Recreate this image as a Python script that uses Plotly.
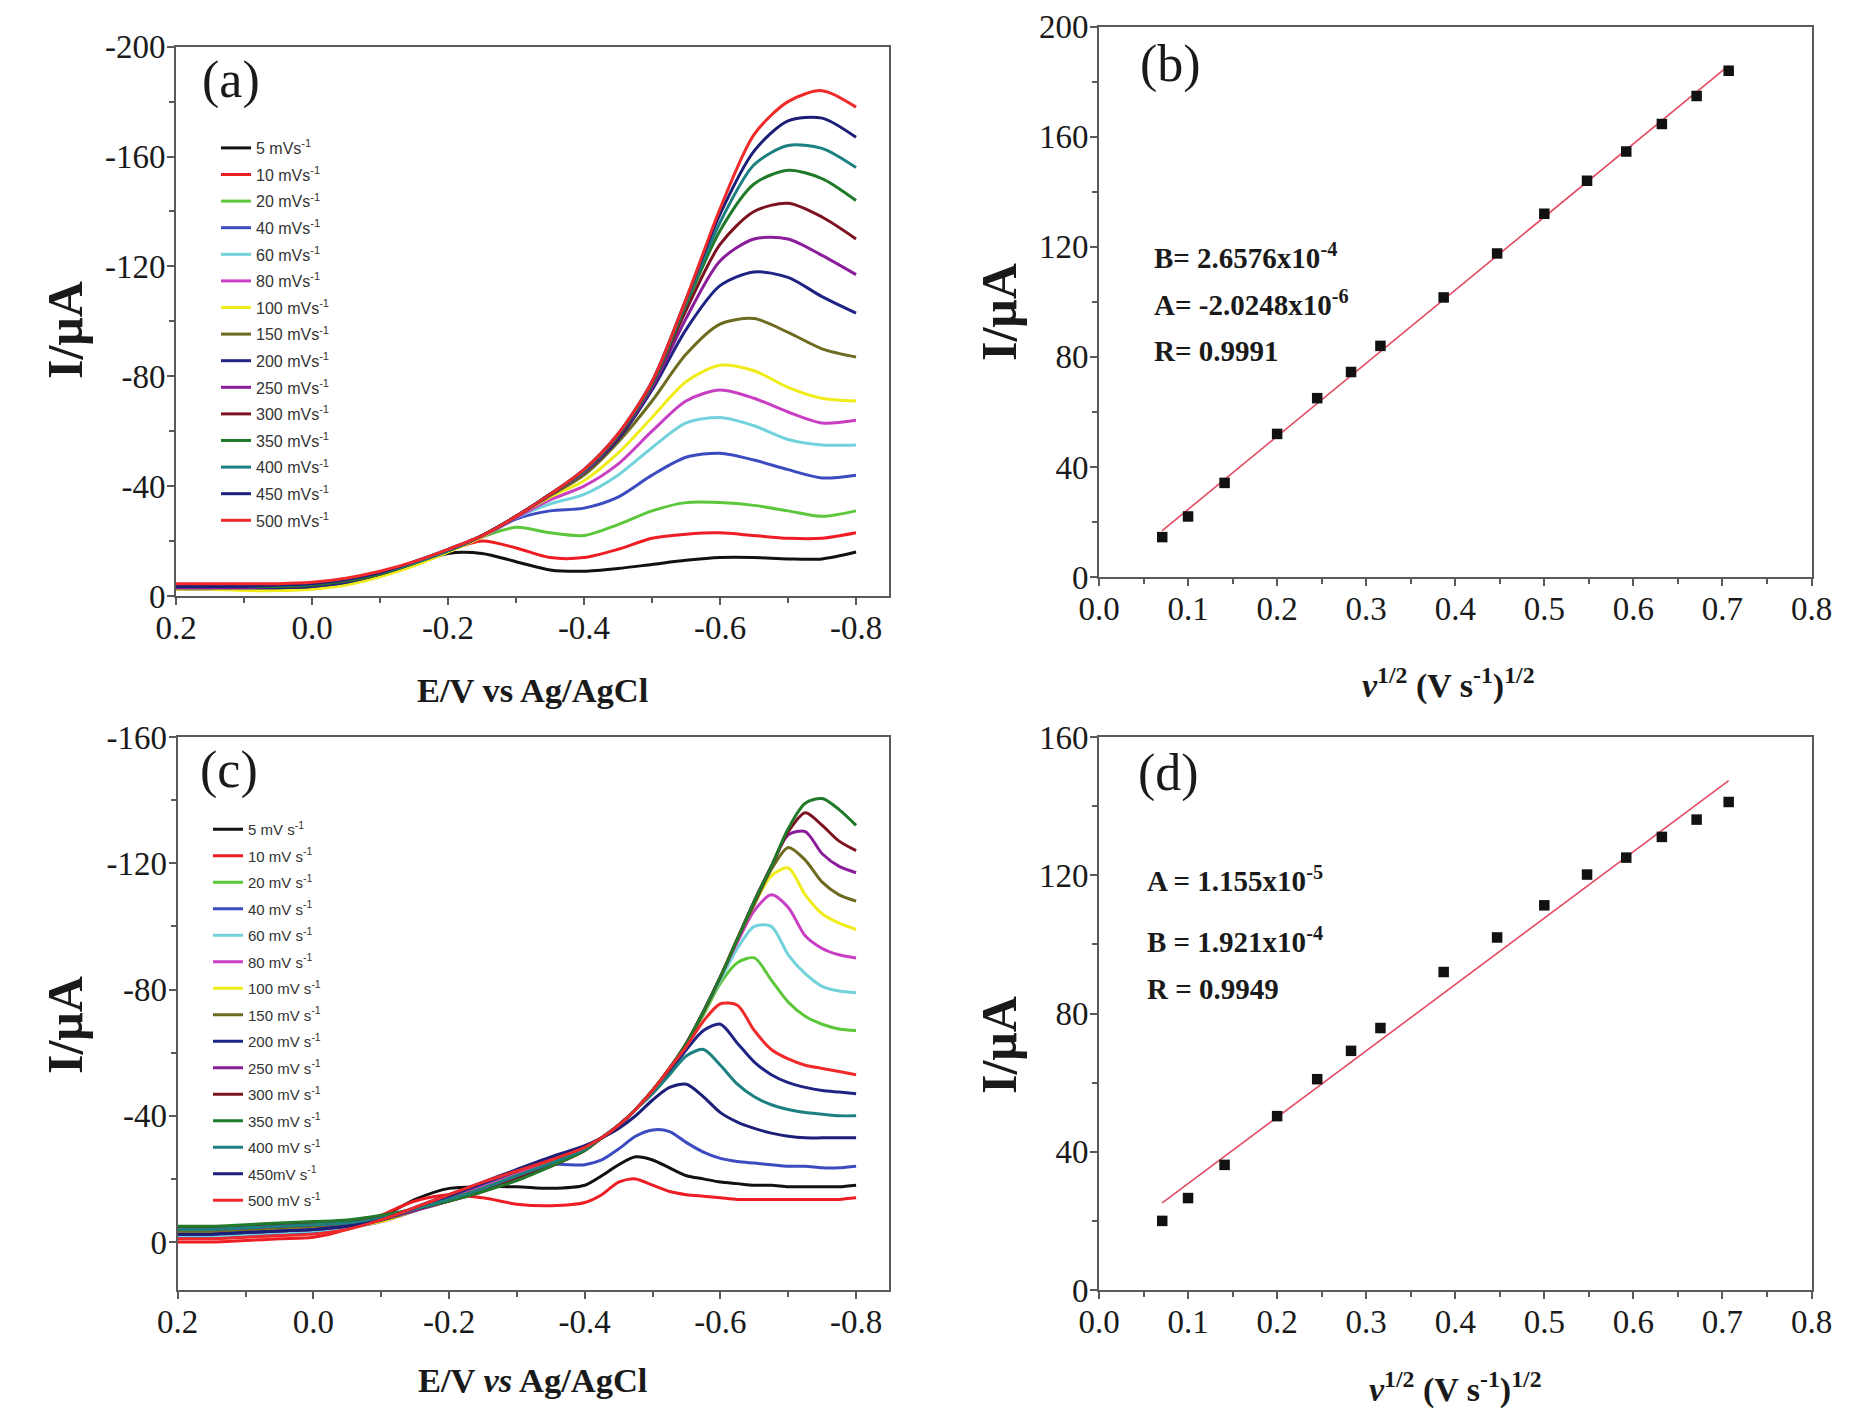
import plotly.graph_objects as go

W, H = 1858, 1425

# ---------------- data ----------------
RATES = [5, 10, 20, 40, 60, 80, 100, 150, 200, 250, 300, 350, 400, 450, 500]
COLORS = ["#111111", "#ee1d23", "#5cc73a", "#3c4bbf", "#72d2dc", "#c93fc4", "#f0ec1a",
          "#6e6a1f", "#1f2484", "#8a1d99", "#7d1222", "#207a2a", "#1c7f80", "#1c1f78", "#f02a2a"]

# panel (a): potential (V) and currents (uA)
E_A = [0.2, 0.15, 0.1, 0.05, 0.0, -0.05, -0.1, -0.15, -0.2, -0.25, -0.3, -0.35, -0.4,
       -0.45, -0.5, -0.55, -0.6, -0.65, -0.7, -0.75, -0.8]
IA_5 = [-3, -3, -3, -3, -3.5, -5, -7.5, -11.5, -15.5, -15.5, -12.5, -9.5, -9, -10, -11.5, -13, -14, -14, -13.5, -13.5, -16]
IA_10 = [-3.5, -3.5, -3.5, -3.5, -4, -5.5, -8, -12, -16.5, -20, -17.5, -14, -14, -17, -21, -22.5, -23, -22, -21, -21, -23]
IA_20 = [-3, -3, -2.5, -2.5, -3, -5, -7.5, -11.5, -16.5, -21.5, -25, -23, -22, -26, -31, -34, -34, -33, -31, -29, -31]
IA_40 = [-2.5, -2.5, -2.5, -3, -3.5, -5, -8, -12, -16.5, -21.5, -28, -31, -32, -36, -44, -50.5, -52, -49.5, -46, -43, -44]
IA_60 = [-3, -3, -3, -3, -3.5, -5, -7.5, -11.5, -16.5, -21.5, -28.5, -33.5, -37, -44, -54, -63, -65, -62, -57, -55, -55]
IA_80 = [-3, -3, -3, -3, -3.5, -5, -7.5, -11.5, -16.5, -21.5, -28.5, -35, -40, -48, -60, -71, -75, -72, -67, -63, -64]
IA_100 = [-2.5, -2.5, -2, -2, -2.5, -4, -7, -11, -16, -21.5, -29, -36, -42, -52, -65, -78, -84, -82, -76, -72, -71]
IA_150 = [-3, -3, -3, -3, -3.5, -5, -8, -12, -16.5, -22, -29, -36.5, -44, -56, -71, -88, -99, -101, -96, -90, -87]
IA_200 = [-3, -3, -3, -3, -3.5, -5, -8, -12, -16.5, -22, -29, -37, -45, -57, -75, -97, -113, -118, -116, -109, -103]
IA_250 = [-3, -3, -3, -3.5, -4, -5.5, -8, -12, -16.5, -22, -29, -37, -45, -58, -76, -101, -122, -130, -130, -124, -117]
IA_300 = [-3.5, -3.5, -3.5, -3.5, -4, -5.5, -8, -12, -16.5, -22, -29, -37, -45.5, -58, -77, -104, -128, -140, -143, -138, -130]
IA_350 = [-3.5, -3.5, -3.5, -3.5, -4, -5.5, -8, -12, -16.5, -22, -29, -37, -45.5, -58.5, -77, -106, -133, -150, -155, -152, -144]
IA_400 = [-3.5, -3.5, -3.5, -4, -4.5, -6, -8.5, -12, -16.5, -22, -29, -37, -45.5, -58.5, -77.5, -107, -136, -157, -164, -163, -156]
IA_450 = [-3.5, -3.5, -3.5, -4, -4.5, -6, -8.5, -12.5, -17, -22, -29, -37, -46, -59, -78, -108, -139, -162, -173, -174, -167]
IA_500 = [-4.5, -4.5, -4.5, -4.5, -5, -6.5, -9, -12.5, -17, -22, -29, -37, -46, -59, -78, -108, -141, -168, -180, -184, -178]

# panel (c)
E_C = [0.2, 0.15, 0.1, 0.05, 0.0, -0.05, -0.1, -0.15, -0.2, -0.25, -0.3, -0.35, -0.4,
       -0.425, -0.45, -0.475, -0.5, -0.525, -0.55, -0.575, -0.6, -0.625, -0.65, -0.675,
       -0.7, -0.725, -0.75, -0.775, -0.8]
IC_5 = [-3, -3, -3.5, -4, -4.5, -5.5, -8, -13.5, -17, -17.5, -17.5, -17, -18, -21, -24.5, -27, -26, -23.5, -21, -20, -19, -18.5, -18, -18, -17.5, -17.5, -17.5, -17.5, -18]
IC_10 = [0, 0, -0.5, -1, -1.5, -4, -8.5, -13, -15, -14, -12, -11.5, -12.5, -15, -19, -20, -18, -16, -15, -14.5, -14, -13.5, -13.5, -13.5, -13.5, -13.5, -13.5, -13.5, -14]
IC_20 = [-3.5, -3.5, -4, -4.5, -5, -5.5, -7, -10, -13.5, -17.5, -21.5, -25.5, -30, -33, -37, -42, -48, -55, -63, -72, -82, -88.5, -90, -83, -76, -71.5, -69, -67.5, -67]
IC_40 = [-1.5, -1.5, -2, -2.5, -3, -4.5, -6.5, -10, -14, -18, -21.5, -24.5, -24.5, -26, -29.5, -33.5, -35.5, -35, -31.5, -28.5, -26.5, -25.5, -25, -24.5, -24, -24, -23.5, -23.5, -24]
IC_60 = [-2, -2, -2.5, -3, -3.5, -4.5, -6.5, -10, -14, -18, -22, -26, -30, -33, -37, -42, -48, -55, -63, -73, -83, -93, -100, -100, -91, -85, -81, -79.5, -79]
IC_80 = [-3, -3, -3, -3.5, -4, -5, -6.5, -10, -14, -17.5, -21.5, -25.5, -30, -33, -37, -42, -48, -55, -63, -73, -84, -95, -105, -110, -106, -97, -93, -91, -90]
IC_100 = [-3, -3, -3.5, -4, -4.5, -5, -6.5, -10, -13.5, -17, -21, -25, -30, -33, -37, -42, -48, -55, -63, -73, -84, -96, -107, -116, -118.5, -110, -104, -101, -99]
IC_150 = [-3.5, -3.5, -4, -4.5, -5, -5.5, -7, -10, -13.5, -17, -21, -25, -29.5, -33, -37, -42, -48, -55, -63, -73, -84, -96, -107, -118, -125, -121, -114, -110, -108]
IC_200 = [-2.5, -2.5, -3, -3.5, -4, -5, -7, -10.5, -14.5, -18.5, -22.5, -26.5, -30, -33, -37, -42, -47.5, -54, -61, -67, -69, -63, -57, -53, -50.5, -49, -48, -47.5, -47]
IC_250 = [-4, -4, -4.5, -5, -5.5, -6, -7.5, -10, -13, -16.5, -20.5, -24.5, -29.5, -33, -37, -42, -48, -55, -63, -73, -84, -96, -108, -119, -129, -130, -123, -119, -117]
IC_300 = [-4.5, -4.5, -5, -5.5, -6, -6.5, -8, -10.5, -13, -16, -20, -24, -29, -33, -37, -42, -48, -55, -63, -73, -84, -96, -108, -119, -130, -136, -132, -127, -124]
IC_350 = [-5, -5, -5.5, -6, -6.5, -7, -8.5, -10.5, -13, -16, -19.5, -24, -29, -33, -37, -42, -48, -55, -63, -73, -84, -96, -108, -119, -131, -139, -140.5, -137, -132]
IC_400 = [-4, -4, -4.5, -5, -5.5, -6, -7.5, -10.5, -13.5, -17, -21, -25, -29.5, -33, -37, -42, -47, -53, -59, -61, -56, -50, -46, -43.5, -42, -41, -40.5, -40, -40]
IC_450 = [-2.5, -2.5, -3, -3.5, -4, -5, -7, -11, -15, -19, -23, -27, -30.5, -33, -36, -40, -45, -49, -50, -46, -41, -38, -36, -34.5, -33.5, -33, -33, -33, -33]
IC_500 = [-1, -1, -1.5, -2, -2.5, -4, -7, -11, -15, -19, -22.5, -26, -30, -33, -37, -42, -48, -55, -62, -70, -75.5, -75, -67, -61, -58, -56, -55, -54, -53]

# panels (b) and (d): peak current vs square root of scan rate
SQRT_V = [0.071, 0.100, 0.141, 0.200, 0.245, 0.283, 0.316, 0.387, 0.447, 0.500, 0.548, 0.592, 0.632, 0.671, 0.707]
IP_B = [14.5, 22, 34.2, 52, 65, 74.5, 84, 101.6, 117.6, 132, 144, 154.6, 164.6, 174.8, 184]
IP_D = [20, 26.6, 36.2, 50.3, 61, 69.2, 75.8, 92, 102, 111.3, 120.2, 125.1, 131.1, 136.1, 141.2]
FIT_B_A, FIT_B_B = -2.0248e-6, 2.6576e-4   # A (intercept), B (slope) in amperes
FIT_D_A, FIT_D_B = 1.155e-5, 1.921e-4

IA = [IA_5, IA_10, IA_20, IA_40, IA_60, IA_80, IA_100, IA_150, IA_200, IA_250, IA_300, IA_350, IA_400, IA_450, IA_500]
IC = [IC_5, IC_10, IC_20, IC_40, IC_60, IC_80, IC_100, IC_150, IC_200, IC_250, IC_300, IC_350, IC_400, IC_450, IC_500]

XT_CV = [0.2, 0.0, -0.2, -0.4, -0.6, -0.8]
YT_A = [0, -40, -80, -120, -160, -200]
YT_C = [0, -40, -80, -120, -160]
XT_FIT = [0.0, 0.1, 0.2, 0.3, 0.4, 0.5, 0.6, 0.7, 0.8]
YT_B = [0, 40, 80, 120, 160, 200]
YT_D = [0, 40, 80, 120, 160]

SERIF = "Liberation Serif"
SANS = "Liberation Sans"

fig = go.Figure()

for r, c, ys in zip(RATES, COLORS, IA):
    fig.add_trace(go.Scatter(x=E_A, y=ys, mode="lines", xaxis="x", yaxis="y",
                             line=dict(color=c, width=3, shape="spline", smoothing=0.8),
                             name=f"{r} mVs<sup>-1</sup>", legend="legend", legendgroup=f"a{r}"))

for r, c, ys in zip(RATES, COLORS, IC):
    label = f"{r}mV s<sup>-1</sup>" if r == 450 else f"{r} mV s<sup>-1</sup>"
    fig.add_trace(go.Scatter(x=E_C, y=ys, mode="lines", xaxis="x3", yaxis="y3",
                             line=dict(color=c, width=3, shape="spline", smoothing=0.8),
                             name=label, legend="legend2", legendgroup=f"c{r}"))

FIT_RED = "#e44a63"
for (xa, ya, ip, A, B) in [("x2", "y2", IP_B, FIT_B_A, FIT_B_B), ("x4", "y4", IP_D, FIT_D_A, FIT_D_B)]:
    xs = [SQRT_V[0], SQRT_V[-1]]
    fig.add_trace(go.Scatter(x=xs, y=[(A + B * x) * 1e6 for x in xs], mode="lines",
                             xaxis=xa, yaxis=ya, line=dict(color=FIT_RED, width=1.6), showlegend=False))
    fig.add_trace(go.Scatter(x=SQRT_V, y=ip, mode="markers", xaxis=xa, yaxis=ya,
                             marker=dict(symbol="square", size=10.5, color="#111111"), showlegend=False))

AXCOL = "#5a5a5a"
TICKFONT = dict(family=SERIF, size=33, color="#1a1a1a")


def axis(domain, rng, tickvals, fmt, minor_dtick, anchor, standoff):
    return dict(domain=domain, range=rng, tickmode="array", tickvals=tickvals,
                ticktext=[fmt(v) for v in tickvals], showline=True, linecolor=AXCOL,
                linewidth=2, mirror=True, showgrid=False, zeroline=False, automargin=False,
                ticks="outside", ticklen=7, tickwidth=1.5, tickcolor=AXCOL,
                ticklabelstandoff=standoff, tickfont=TICKFONT, anchor=anchor,
                minor=dict(ticks="outside", ticklen=5, tickwidth=1.5, tickcolor=AXCOL,
                           dtick=minor_dtick, showgrid=False))


f1 = lambda v: f"{v:.1f}"
f0 = lambda v: f"{v:g}"

xa_dom = [176 / W, 889 / W]
xc_dom = [177.7 / W, 889 / W]
xb_dom = [1099 / W, 1811.5 / W]
ya_dom = [1 - 596 / H, 1 - 46.7 / H]
yb_dom = [1 - 577 / H, 1 - 26.7 / H]
yc_dom = [1 - 1290 / H, 1 - 737 / H]

XS, YS = -6, -5

fig.update_layout(
    template="none",
    width=W, height=H, margin=dict(l=0, r=0, t=0, b=0, autoexpand=False),
    paper_bgcolor="white", plot_bgcolor="white",
    xaxis=axis(xa_dom, [0.2, -0.8485], XT_CV, f1, 0.1, "y", XS),
    yaxis=axis(ya_dom, [0, -200], YT_A, f0, 20, "x", YS),
    xaxis2=axis(xb_dom, [0, 0.8], XT_FIT, f1, 0.05, "y2", XS),
    yaxis2=axis(yb_dom, [0, 200], YT_B, f0, 20, "x2", YS),
    xaxis3=axis(xc_dom, [0.2, -0.8485], XT_CV, f1, 0.1, "y3", XS),
    yaxis3=axis(yc_dom, [15.2, -160], YT_C, f0, 20, "x3", YS),
    xaxis4=axis(xb_dom, [0, 0.8], XT_FIT, f1, 0.05, "y4", XS),
    yaxis4=axis(yc_dom, [0, 160], YT_D, f0, 20, "x4", YS),
    legend=dict(x=216 / W, y=1 - 131 / H, xanchor="left", yanchor="top",
                bgcolor="rgba(0,0,0,0)", font=dict(family=SANS, size=16, color="#333"),
                tracegroupgap=2.8, itemwidth=30),
    legend2=dict(x=208 / W, y=1 - 813 / H, xanchor="left", yanchor="top",
                 bgcolor="rgba(0,0,0,0)", font=dict(family=SANS, size=15, color="#333"),
                 tracegroupgap=4, itemwidth=30),
)

ann = []


def txt(x, y, text, size, angle=0, xanchor="center", family=SERIF):
    ann.append(dict(x=x / W, y=1 - y / H, xref="paper", yref="paper", text=text,
                    showarrow=False, textangle=angle, xanchor=xanchor, yanchor="middle",
                    font=dict(family=family, size=size, color="#1a1a1a")))


# panel labels
txt(231, 80, "(a)", 52)
txt(1170, 64, "(b)", 52)
txt(229, 770, "(c)", 52)
txt(1168, 773, "(d)", 52)

# axis titles
txt(65, 330, "<b>I/μA</b>", 50, angle=-90)
txt(999, 312, "<b>I/μA</b>", 50, angle=-90)
txt(65, 1025, "<b>I/μA</b>", 50, angle=-90)
txt(999, 1045, "<b>I/μA</b>", 50, angle=-90)
txt(532, 690, "<b>E/V vs Ag/AgCl</b>", 34.5)
txt(532, 1380, "<b>E/V <i>vs</i> Ag/AgCl</b>", 34.5)
txt(1448, 683, "<b><i>v</i><sup>1/2</sup> (V s<sup>-1</sup>)<sup>1/2</sup></b>", 34)
txt(1455, 1387, "<b><i>v</i><sup>1/2</sup> (V s<sup>-1</sup>)<sup>1/2</sup></b>", 34)

# fit parameters
txt(1152, 256, "<b>B= 2.6576x10<sup>-4</sup></b>", 29, xanchor="left")
txt(1152, 303, "<b>A= -2.0248x10<sup>-6</sup></b>", 29, xanchor="left")
txt(1152, 351, "<b>R= 0.9991</b>", 29, xanchor="left")
txt(1145, 879, "<b>A = 1.155x10<sup>-5</sup></b>", 29, xanchor="left")
txt(1145, 940, "<b>B = 1.921x10<sup>-4</sup></b>", 29, xanchor="left")
txt(1145, 989, "<b>R = 0.9949</b>", 29, xanchor="left")

fig.update_layout(annotations=ann)

fig.write_html("out.html")
